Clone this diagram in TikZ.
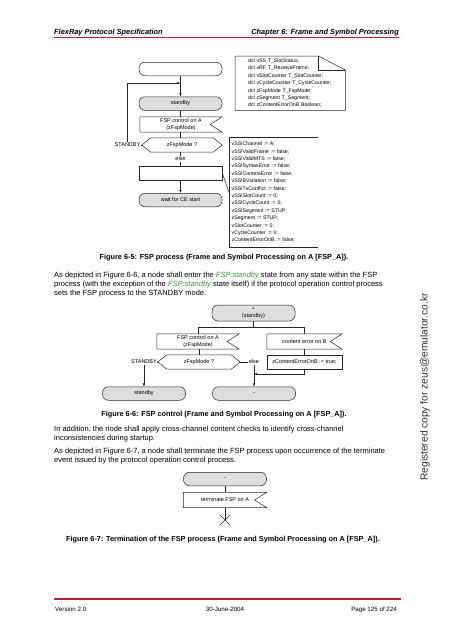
\documentclass[tikz,border=0pt]{standalone}
\usepackage{fontspec}
\setmainfont{Liberation Sans}
\usetikzlibrary{arrows.meta, positioning, calc}

\definecolor{specred}{RGB}{176,38,48}
\definecolor{fspgreen}{RGB}{60,150,60}
\definecolor{statefill}{RGB}{222,222,222}

\newcommand\fspst{\textcolor{fspgreen}{\itshape FSP:standby}}
% outlines of the SDL input and decision symbols
\newcommand\inshape[1]{\draw[sdl] (#1.north west) -- (#1.north east) -- ([xshift=-12pt]#1.east) -- (#1.south east) -- (#1.south west) -- cycle;}
\newcommand\decshape[1]{\draw[sdl] (#1.west) -- ([xshift=9pt]#1.north west) -- ([xshift=-9pt]#1.north east) -- (#1.east) -- ([xshift=-9pt]#1.south east) -- ([xshift=9pt]#1.south west) -- cycle;}

\begin{document}
\begin{tikzpicture}[
    x=1pt, y=-1pt, font=\fontsize{5.5}{6.5}\selectfont, >={Latex[length=3.2pt,width=2.6pt]},
    sdl/.style     ={draw=black!85, line width=0.5pt},
    state/.style   ={sdl, rounded corners=6pt, fill=statefill, minimum width=83pt, minimum height=13.5pt, inner sep=0pt, align=center},
    start/.style   ={state, fill=white},
    task/.style    ={sdl, rectangle, minimum width=83pt, minimum height=14pt, inner sep=0pt, align=center},
    inbox/.style   ={rectangle, minimum width=82pt, minimum height=15pt, inner sep=0pt, align=center},
    decbox/.style  ={rectangle, minimum width=80pt, minimum height=14pt, inner sep=0pt},
    lbl/.style     ={inner sep=0.5pt},
    ans/.style     ={inner sep=0.8pt, fill=white},
    listing/.style ={font=\fontsize{5.2}{7.4}\selectfont, align=left, inner xsep=2.5pt, inner ysep=0pt, text width=84pt},
    body/.style    ={font=\fontsize{7.5}{9}\selectfont, anchor=base west, inner sep=0pt, align=left},
    caption/.style ={font=\bfseries\fontsize{7.3}{9}\selectfont, anchor=base, inner sep=0pt},
    runhead/.style ={font=\bfseries\itshape\fontsize{7.4}{9}\selectfont, anchor=base, inner sep=0pt},
    runfoot/.style ={font=\fontsize{6.2}{8}\selectfont, anchor=base, inner sep=0pt},
]
\useasboundingbox[fill=white] (0,0) rectangle (452,640);

% running head and foot
\node[runhead, anchor=base west] (headL) at (54,34) {FlexRay Protocol Specification};
\node[runhead, anchor=base east] (headR) at (399,34) {Chapter 6: Frame and Symbol Processing};
\draw[specred, line width=1.6pt] (headL.base west |- 0,37.5) -- (headR.base east |- 0,37.5);
\draw[specred, line width=1.6pt] (54,599) -- (401,599);
\node[runfoot, anchor=base west] (footL) at (55,611) {Version 2.0};
\node[runfoot] (footM) at (225,611) {30-June-2004};
\node[runfoot, anchor=base east] (footR) at (397,611) {Page 125 of 224};
\node[rotate=90, font=\fontsize{10.2}{12}\selectfont, text=black!80] (mark) at (425,387) {Registered copy for zeus@emulator.co.kr};

% Figure 6-5
\node[start] (start5) at (180.5,69) {};
\node[state] (stby5) at (180.5,103.5) {standby};
\node[inbox] (ctrlA5) at (181,124.5) {FSP control on A\\(zFspMode)};
\inshape{ctrlA5}
\node[decbox] (dec5) at (182,145) {zFspMode ?};
\decshape{dec5}
\node[lbl, anchor=east] (stbyA) at (141,145) {STANDBY};
\node[task] (proc5) at (180.5,173) {};
\node[state] (wait5) at (180.5,200) {wait for CE start};
\coordinate (loop5) at (180.5,83);
\draw[sdl,->] (start5) -- (stby5);
\draw[sdl] (stby5) -- (ctrlA5.north -| stby5);
\draw[sdl] (ctrlA5.south -| stby5) -- (dec5.north -| stby5);
\draw[sdl] (dec5.west) -- (stbyA.east);
\draw[sdl,->] (stbyA.north) |- (loop5);
\draw[sdl] (dec5.south -| proc5) -- node[ans]{else} (proc5.north);
\draw[sdl,->] (proc5) -- (wait5);

\node[listing, anchor=north west, minimum width=110pt, minimum height=54pt] (dcl5) at (235,56)
  {dcl vSS T\_SlotStatus;\\dcl vRF T\_ReceiveFrame;\\dcl vSlotCounter T\_SlotCounter;\\dcl vCycleCounter T\_CycleCounter;\\dcl zFspMode T\_FspMode;\\dcl zSegment T\_Segment;\\dcl zContentErrorOnB Boolean;};
\draw[sdl] (dcl5.north west) -- ([xshift=-27pt]dcl5.north east) -- ([yshift=-14pt]dcl5.north east) -- (dcl5.south east) -- (dcl5.south west) -- cycle;
\draw[sdl, line width=0.8pt] ([xshift=-27pt]dcl5.north east) -- ++(0,14) -- ([yshift=-14pt]dcl5.north east);

\node[listing, anchor=north west, minimum width=89pt, minimum height=110pt] (cmt5) at (229,137)
  {vSS!Channel := A;\\vSS!ValidFrame := false;\\vSS!ValidMTS := false;\\vSS!SyntaxError := false;\\vSS!ContentError := false;\\vSS!BViolation := false;\\vSS!TxConflict := false;\\vSS!SlotCount := 0;\\vSS!CycleCount := 0;\\vSS!Segment := STUP;\\zSegment := STUP;\\vSlotCounter := 0;\\vCycleCounter := 0;\\zContentErrorOnB := false;};
\draw[sdl] (cmt5.north east) -- (cmt5.north west) -- (cmt5.south west) -- (cmt5.south east);
\draw[sdl] (proc5.east) -- (cmt5.west);

\node[caption] (cap5) at (224,259) {Figure 6-5: FSP process (Frame and Symbol Processing on A [FSP\_A]).};

% base of a paragraph node = baseline of its last line
\node[body] (para1) at (54,295.5) {As depicted in Figure 6-6, a node shall enter the \fspst{} state from any state within the FSP\\
process (with the exception of the \fspst{} state itself) if the protocol operation control process\\
sets the FSP process to the STANDBY mode.};

% Figure 6-6
\node[state, minimum height=16pt] (stbyall) at (253.5,313) {*\\(standby)};
\coordinate (bar6) at (253.5,327);
\node[inbox] (ctrlA6) at (198,341.5) {FSP control on A\\(zFspMode)};
\inshape{ctrlA6}
\node[inbox, minimum width=75pt] (errB6) at (304.5,341.5) {content error on B};
\inshape{errB6}
\node[decbox, minimum width=82pt] (dec6) at (199,362) {zFspMode ?};
\decshape{dec6}
\node[lbl] (stbyB) at (144,362) {STANDBY};
\node[lbl] (else6) at (254,362) {else};
\node[task, minimum width=75pt] (errset6) at (304.5,362) {zContentErrorOnB := true;};
\node[state] (stby6) at (144,393.5) {standby};
\node[state] (dash6) at (254,393.5) {-};
\coordinate (merge6) at (254,374);
\draw[sdl] (stbyall) -- (bar6);
\draw[sdl] (ctrlA6.north) |- (errB6.north |- bar6) -- (errB6.north);
\draw[sdl] (ctrlA6.south -| dec6) -- (dec6.north);
\draw[sdl] (dec6.west) -- (stbyB.east);
\draw[sdl] (dec6.east) -- (else6.west);
\draw[sdl,->] (stbyB) -- (stby6);
\draw[sdl,->] (else6) -- (dash6);
\draw[sdl] (errB6.south) -- (errset6.north);
\draw[sdl,->] (errset6.south) |- (merge6);

\node[caption] (cap6) at (224,416) {Figure 6-6: FSP control (Frame and Symbol Processing on A [FSP\_A]).};

\node[body] (para2) at (54,440) {In addition, the node shall apply cross-channel content checks to identify cross-channel\\
inconsistencies during startup.};
\node[body] (para3) at (54,462) {As depicted in Figure 6-7, a node shall terminate the FSP process upon occurrence of the terminate\\
event issued by the protocol operation control process.};

% Figure 6-7
\node[state] (dash7) at (225,479) {-};
\node[inbox, minimum width=83pt] (term7) at (225,500) {terminate FSP on A};
\inshape{term7}
\coordinate (stop7) at (225,520);
\draw[sdl] (dash7) -- (term7);
\draw[sdl] (term7.south) -- (stop7);
\draw[sdl] ($(stop7)+(-5,-5)$) -- ($(stop7)+(5,5)$) ($(stop7)+(-5,5)$) -- ($(stop7)+(5,-5)$);

\node[caption] (cap7) at (223,541) {Figure 6-7: Termination of the FSP process (Frame and Symbol Processing on A [FSP\_A]).};
\end{tikzpicture}
\end{document}
